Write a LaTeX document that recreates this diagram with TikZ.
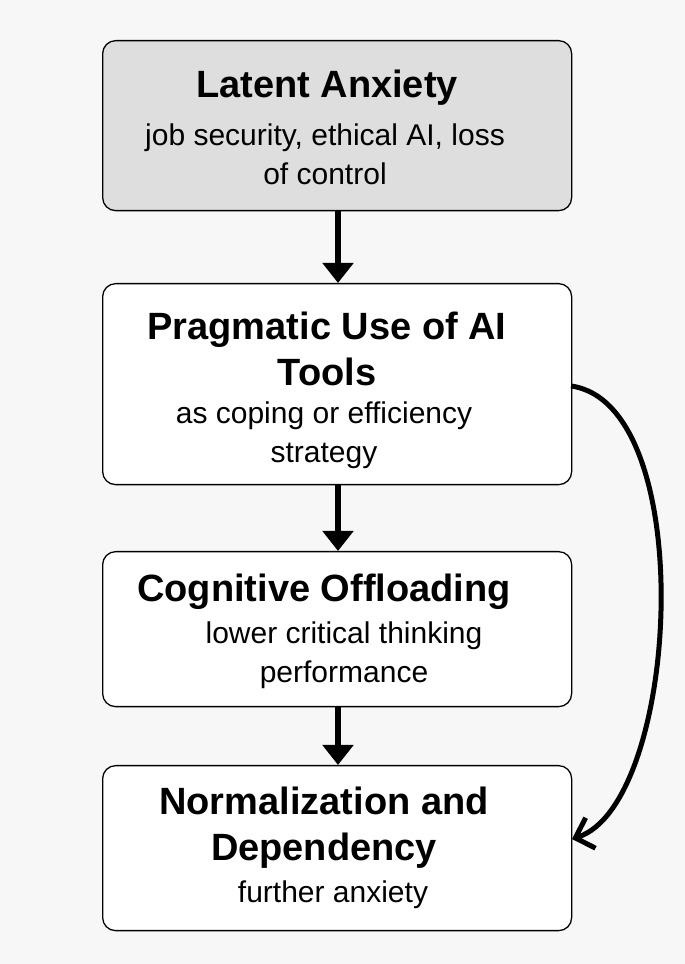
\documentclass[tikz,border=0pt]{standalone}
\usepackage{fontspec}
\setmainfont{Liberation Sans}
\usetikzlibrary{arrows.meta}
\begin{document}
\begin{tikzpicture}[x=1pt,y=1pt,
  box/.style={draw=black,line width=1.3pt,rounded corners=13pt,anchor=north west,inner sep=0pt},
  ttl/.style={font=\fontsize{38}{46}\selectfont\bfseries,align=center},
  sub/.style={font=\fontsize{30}{39}\selectfont,align=center},
  arr/.style={line width=5.5pt,-{Triangle[length=20pt,width=30pt]}}]
\fill[white!97!black] (0,0) rectangle (685,964);
\useasboundingbox (0,0) rectangle (685,964);
\node[box,fill=black!13,minimum width=469pt,minimum height=170pt] (b1) at (102,924) {};
\node[box,fill=white,minimum width=469pt,minimum height=201pt] (b2) at (102,681) {};
\node[box,fill=white,minimum width=469pt,minimum height=155pt] (b3) at (102,413) {};
\node[box,fill=white,minimum width=469pt,minimum height=165pt] (b4) at (102,199) {};
\node[ttl] (t1) at (327,876) {Latent Anxiety};
\node[sub] (s1) at (325,810) {job security, ethical AI, loss\\of control};
\node[ttl] (t2) at (327,615) {Pragmatic Use of AI\\Tools};
\node[sub] (s2) at (324,529) {as coping or efficiency\\strategy};
\node[ttl] (t3) at (324,372) {Cognitive Offloading};
\node[sub] (s3) at (344,309) {lower critical thinking\\performance};
\node[ttl] (t4) at (324,136) {Normalization and\\Dependency};
\node[sub] (s4) at (333,69) {further anxiety};
\draw[arr] (b1.south -| 338,0) -- (338,681);
\draw[arr] (b2.south -| 338,0) -- (338,413);
\draw[arr] (b3.south -| 338,0) -- (338,199);
\coordinate (cs) at (571,578);
\coordinate (ce) at (572,125);
\draw[line width=5pt,-{Straight Barb[length=16pt,width=32pt]}] (cs) .. controls (700,560) and (680,160) .. (ce);
\end{tikzpicture}
\end{document}
